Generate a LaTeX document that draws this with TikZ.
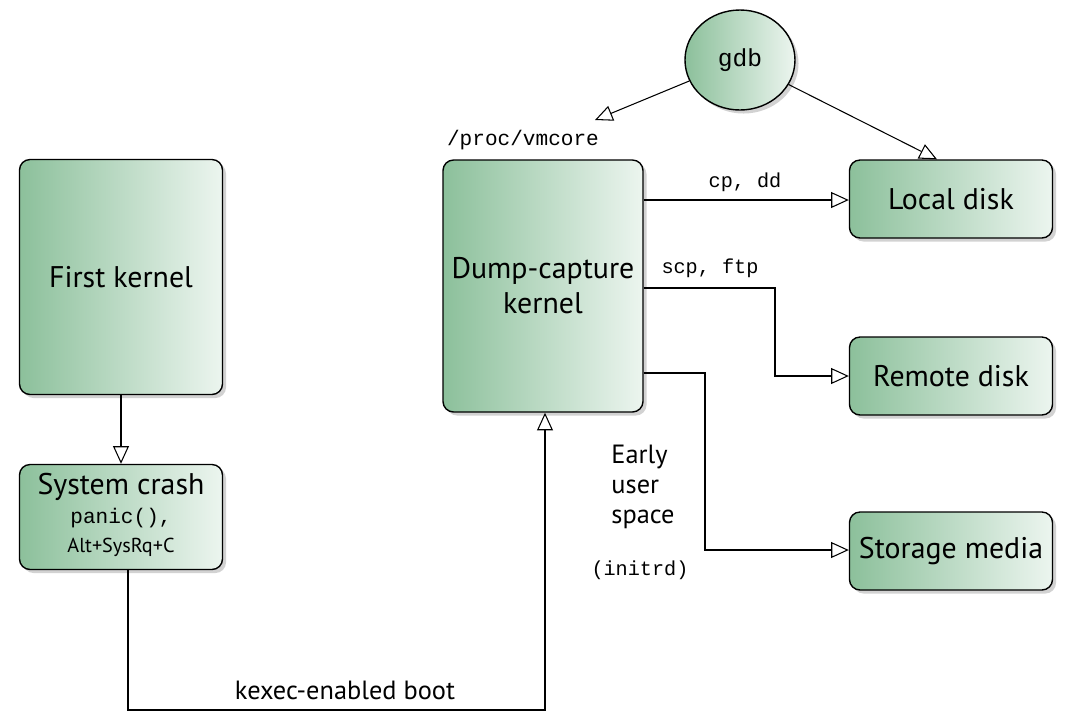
\documentclass[tikz,border=0pt]{standalone}
\usepackage{fontspec}
\setsansfont{PT Sans}
\setmonofont{Liberation Mono}
\usetikzlibrary{arrows.meta,shadows,shapes.geometric}
\begin{document}
\begin{tikzpicture}[x=0.02cm,y=-0.02cm,
  box/.style={draw=black,line width=0.8pt,rounded corners=6pt,shading=axis,left color=green!40!black!10!green!30!white!85!black,right color=green!6!white,
   shading angle=90,drop shadow={shadow xshift=2pt,shadow yshift=-2pt,fill=black!35},inner sep=0pt,font=\sffamily\fontsize{17}{20}\selectfont,align=center},
  arr/.style={draw=black,line width=0.6pt,-{Triangle[open,length=10pt,width=9pt]}},
  lbl/.style={font=\ttfamily\fontsize{11.5}{13}\selectfont},
  slbl/.style={font=\sffamily\fontsize{15}{17}\selectfont,align=left}]
\useasboundingbox (0,0) rectangle (1080,725);
\tikzset{box/.append style={left color={rgb,255:red,140;green,192;blue,155}, right color={rgb,255:red,236;green,245;blue,239}}}
\node[box,minimum width=203*0.02cm,minimum height=235*0.02cm] (fk) at (121,277) {First kernel};
\node[box,minimum width=203*0.02cm,minimum height=105*0.02cm] (sc) at (121,517) {};
\node[font=\sffamily\fontsize{17}{20}\selectfont] (sct) at (121,487) {System crash};
\node[font=\ttfamily\fontsize{12}{14}\selectfont] (scp) at (121,518) {panic(),};
\node[font=\sffamily\fontsize{11.5}{13}\selectfont] (sck) at (121,547) {Alt+SysRq+C};
\node[box,minimum width=200*0.02cm,minimum height=252*0.02cm] (dk) at (543,286) {Dump-capture\\kernel};
\node[box,ellipse,minimum width=110*0.02cm,minimum height=100*0.02cm,font=\ttfamily\fontsize{14}{16}\selectfont] (gdb) at (740,60) {gdb};
\node[box,minimum width=203*0.02cm,minimum height=78*0.02cm] (ld) at (951,199) {Local disk};
\node[box,minimum width=203*0.02cm,minimum height=78*0.02cm] (rd) at (951,376) {Remote disk};
\node[box,minimum width=203*0.02cm,minimum height=78*0.02cm] (sm) at (951,551) {Storage media};
\node[lbl,font=\ttfamily\fontsize{12}{14}\selectfont] (pv) at (523,140) {/proc/vmcore};
\coordinate (pvt) at (595,120);
\draw[arr] (fk.south) -- (sc.north);
\draw[arr] (sc.south -| 128,0) -- (128,710) -- (545,710) -- (dk.south -| 545,0);
\node[slbl] (kx) at (345,690) {kexec-enabled boot};
\draw[arr] (dk.east |- 0,200) -- (ld.west |- 0,200);
\node[lbl] (cp) at (745,182) {cp, dd};
\draw[arr] (dk.east |- 0,288) -- (775,288) -- (775,376) -- (rd.west);
\node[lbl] (sf) at (710,268) {scp, ftp};
\draw[arr] (dk.east |- 0,373) -- (705,373) -- (705,550) -- (sm.west |- 0,550);
\node[slbl] (eu) at (643,487) {Early\\user\\space};
\node[lbl] (ini) at (640,570) {(initrd)};
\draw[arr] (gdb) -- (pvt);
\draw[arr] (gdb) -- (ld.north -| 937,0);
\end{tikzpicture}
\end{document}
